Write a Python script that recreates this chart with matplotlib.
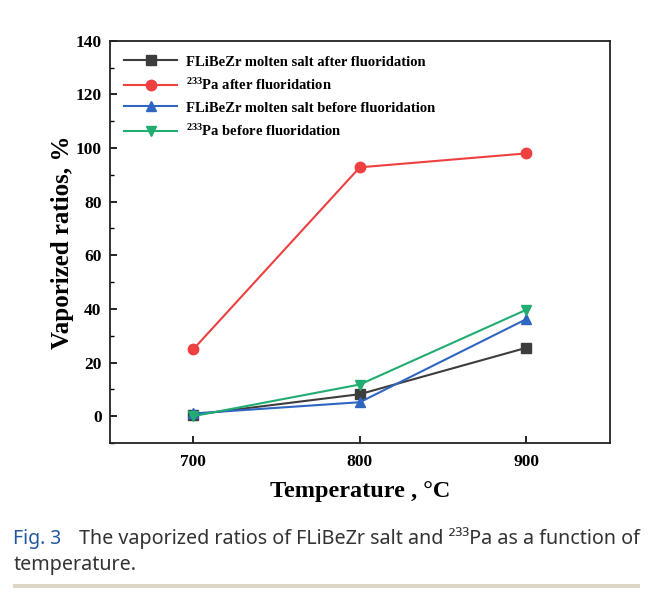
import matplotlib
matplotlib.use("Agg")
import matplotlib.pyplot as plt
from matplotlib.ticker import MultipleLocator
from matplotlib.patches import Rectangle

# ── data ─────────────────────────────────────────────────────
temps = [700, 800, 900]
salt_after = [0.5, 8.2, 25.5]
pa_after = [24.9, 92.8, 98.0]
salt_before = [1.0, 5.2, 36.2]
pa_before = [0.0, 11.8, 39.7]

labels = [
    "FLiBeZr molten salt after fluoridation",
    r"$^{233}$Pa after fluoridation",
    "FLiBeZr molten salt before fluoridation",
    r"$^{233}$Pa before fluoridation",
]
colors = ["#3d3d3d", "#ee4040", "#2f66c2", "#21ad72"]
markers = ["s", "o", "^", "v"]

plt.rcParams["font.family"] = "Liberation Serif"
plt.rcParams["font.weight"] = "bold"
plt.rcParams["mathtext.fontset"] = "custom"
plt.rcParams["mathtext.rm"] = "Liberation Serif:bold"
plt.rcParams["mathtext.it"] = "Liberation Serif:bold"
plt.rcParams["mathtext.bf"] = "Liberation Serif:bold"

fig = plt.figure(figsize=(6.62, 5.95), dpi=100)
ax = fig.add_axes([0.166, 0.2555, 0.755, 0.676])

series = [salt_after, pa_after, salt_before, pa_before]
for vals, lab, c, m in zip(series, labels, colors, markers):
    ax.plot(temps, vals, color=c, marker=m, markersize=7.5,
            linewidth=1.5, label=lab)

ax.set_xlim(650, 950)
ax.set_ylim(-10, 140)
ax.set_xticks(temps)
ax.yaxis.set_major_locator(MultipleLocator(20))
ax.yaxis.set_minor_locator(MultipleLocator(10))
ax.tick_params(axis="both", which="major", direction="in", length=5,
               width=1.2, labelsize=12.5, pad=8)
ax.tick_params(axis="y", which="major", pad=6)
ax.tick_params(axis="y", which="minor", direction="in", length=3, width=1.0)
for lab in ax.get_xticklabels() + ax.get_yticklabels():
    lab.set_fontweight("bold")
for sp in ax.spines.values():
    sp.set_linewidth(1.3)
    sp.set_color("#222222")

ax.set_xlabel("Temperature , °C", fontsize=17.5, fontweight="bold", labelpad=8)
ax.set_ylabel("Vaporized ratios, %", fontsize=18, fontweight="bold", labelpad=1)

leg = ax.legend(loc="upper left", frameon=False, fontsize=10.5,
                handlelength=3.6, labelspacing=0.58, handletextpad=0.6,
                bbox_to_anchor=(0.0, 1.0), borderaxespad=0.6)

# ── caption ──────────────────────────────────────────────────
fig.text(0.02, 0.085, "Fig. 3", family="Noto Sans", weight="normal",
         fontsize=14, color="#22569e")
fig.text(0.12, 0.085,
         "The vaporized ratios of FLiBeZr salt and ²³³Pa as a function of",
         family="Noto Sans", weight="normal", fontsize=14.2, color="#333333")
fig.text(0.02, 0.042, "temperature.", family="Noto Sans", weight="normal",
         fontsize=14.2, color="#333333")
fig.add_artist(Rectangle((0.02, 0.011), 0.947, 0.007,
                         transform=fig.transFigure, color="#ddd6c6",
                         linewidth=0))

fig.savefig("out.png", dpi=100)
